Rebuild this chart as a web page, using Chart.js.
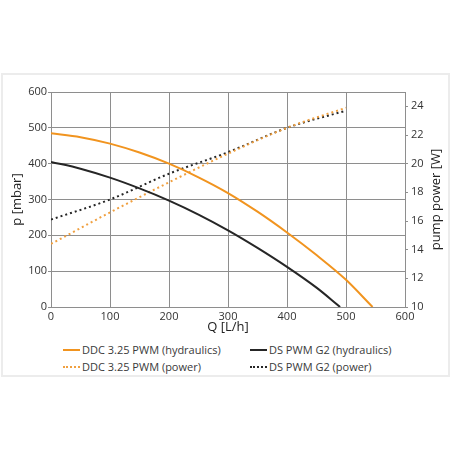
<!DOCTYPE html>
<html>
<head>
<meta charset="utf-8">
<script src="https://cdn.jsdelivr.net/npm/chart.js@4/dist/chart.umd.min.js"></script>
<style>
  html, body { margin: 0; padding: 0; background: #fff; }
  #wrap { position: relative; width: 452px; height: 452px; overflow: hidden; }
  #frame {
    position: absolute; left: 1px; top: 73px; width: 445px; height: 300px;
    border: 2px solid #ececec;
  }
  #chart-box { position: absolute; left: 0; top: 0; width: 452px; height: 338px; }
  .leg {
    position: absolute; font-family: "Open Sans", sans-serif; font-size: 11px;
    color: #3a3a3a; white-space: nowrap; line-height: 14px;
  }
  .leg .mark {
    display: inline-block; width: 17px; vertical-align: middle; margin-right: 2px;
    position: relative; top: -1px;
  }
</style>
</head>
<body>
<div id="wrap">
  <div id="frame"></div>
  <div id="chart-box"><canvas id="pumpChart" width="452" height="338"></canvas></div>
  <div id="legend"></div>
</div>
<script>
// flow values (L/h) and readings taken from the curves
const qDdcHyd = [0, 50, 100, 150, 200, 250, 300, 350, 400, 450, 500, 545];
const pDdcHyd = [485, 474, 456, 431, 400, 362, 318, 266, 208, 145, 76, 0];

const qD5Hyd = [0, 50, 100, 150, 200, 250, 300, 350, 400, 450, 490];
const pD5Hyd = [405, 386, 361, 331, 297, 258, 214, 165, 112, 54, 0];

const qPower = [0, 100, 200, 300, 400, 500];
const wDdcPower = [14.4, 16.6, 18.7, 20.7, 22.5, 23.9];
const wD5Power = [16.1, 17.5, 19.3, 20.8, 22.5, 23.7];

const xTicks = [0, 100, 200, 300, 400, 500, 600];
const pTicks = [0, 100, 200, 300, 400, 500, 600];
const wTicks = [10, 12, 14, 16, 18, 20, 22, 24];

const labels = [
    'DDC 3.25 PWM (hydraulics)',
    'DS PWM G2 (hydraulics)',
    'DDC 3.25 PWM (power)',
    'DS PWM G2 (power)'
];

const orange = '#f1941f';
const dark = '#262626';
const gridColor = '#8e8e8e';

function toPoints(xs, ys) {
    return xs.map((x, i) => ({ x: x, y: ys[i] }));
}

// right axis title reads bottom-to-top like the left one
const rightTitle = {
    id: 'rightTitle',
    afterDraw(chart) {
        const ctx = chart.ctx;
        const area = chart.chartArea;
        ctx.save();
        ctx.translate(436, (area.top + area.bottom) / 2);
        ctx.rotate(-Math.PI / 2);
        ctx.font = '13px "Open Sans", sans-serif';
        ctx.fillStyle = '#222';
        ctx.textAlign = 'center';
        ctx.textBaseline = 'middle';
        ctx.fillText('pump power [W]', 0, 0);
        ctx.restore();
    }
};

const tickFont = { family: '"Open Sans", sans-serif', size: 11 };

new Chart(document.getElementById('pumpChart'), {
    type: 'line',
    data: {
        datasets: [
            {
                label: labels[0],
                data: toPoints(qDdcHyd, pDdcHyd),
                borderColor: orange,
                borderWidth: 2,
                yAxisID: 'y'
            },
            {
                label: labels[1],
                data: toPoints(qD5Hyd, pD5Hyd),
                borderColor: dark,
                borderWidth: 2,
                yAxisID: 'y'
            },
            {
                label: labels[2],
                data: toPoints(qPower, wDdcPower),
                borderColor: '#f0a040',
                borderWidth: 2,
                borderDash: [2, 3],
                yAxisID: 'y1'
            },
            {
                label: labels[3],
                data: toPoints(qPower, wD5Power),
                borderColor: dark,
                borderWidth: 2,
                borderDash: [2, 3],
                yAxisID: 'y1'
            }
        ]
    },
    options: {
        responsive: false,
        animation: false,
        devicePixelRatio: 1,
        layout: { padding: { top: 92, left: 0, right: 0, bottom: 0 } },
        elements: {
            point: { radius: 0 },
            line: { cubicInterpolationMode: 'monotone', fill: false }
        },
        plugins: {
            legend: { display: false },
            tooltip: { enabled: false }
        },
        scales: {
            x: {
                type: 'linear',
                min: 0,
                max: 600,
                afterBuildTicks: s => { s.ticks = xTicks.map(v => ({ value: v })); },
                afterFit: s => { s.height = 31; },
                grid: { color: gridColor, tickLength: 0 },
                border: { color: gridColor },
                ticks: { color: '#333', font: tickFont, padding: 3, maxRotation: 0 },
                title: {
                    display: true,
                    text: 'Q [L/h]',
                    color: '#222',
                    font: { family: '"Open Sans", sans-serif', size: 13 },
                    padding: { top: 3, bottom: 3 }
                }
            },
            y: {
                position: 'left',
                min: 0,
                max: 600,
                afterBuildTicks: s => { s.ticks = pTicks.map(v => ({ value: v })); },
                afterFit: s => { s.width = 51; },
                grid: { color: gridColor, tickLength: 3 },
                border: { color: gridColor },
                ticks: { color: '#333', font: tickFont, padding: 1 },
                title: {
                    display: true,
                    text: 'p [mbar]',
                    color: '#222',
                    font: { family: '"Open Sans", sans-serif', size: 13 },
                    padding: { top: 9, bottom: 0 }
                }
            },
            y1: {
                position: 'right',
                min: 10,
                max: 25,
                afterBuildTicks: s => { s.ticks = wTicks.map(v => ({ value: v })); },
                afterFit: s => { s.width = 47; },
                grid: { drawOnChartArea: false, color: gridColor, tickLength: 3 },
                border: { color: gridColor },
                ticks: { color: '#333', font: tickFont, padding: 3 }
            }
        }
    },
    plugins: [rightTitle]
});

// legend in two columns below the axis
const legendItems = [
    { text: labels[0], color: orange, style: 'solid', left: 63, top: 343 },
    { text: labels[1], color: dark, style: 'solid', left: 250, top: 343 },
    { text: labels[2], color: '#f0a040', style: 'dotted', left: 63, top: 360 },
    { text: labels[3], color: dark, style: 'dotted', left: 250, top: 360 }
];
const legend = document.getElementById('legend');
legendItems.forEach(item => {
    const el = document.createElement('div');
    el.className = 'leg';
    el.style.left = item.left + 'px';
    el.style.top = item.top + 'px';
    el.innerHTML = `<span class="mark" style="border-top: 2px ${item.style} ${item.color};"></span>${item.text}`;
    legend.appendChild(el);
});
</script>
</body>
</html>
